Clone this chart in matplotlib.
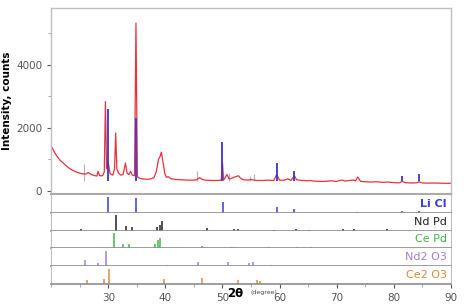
import numpy as np
import matplotlib
matplotlib.use("Agg")
import matplotlib.pyplot as plt
from matplotlib.ticker import MultipleLocator

two_theta = [20.0, 20.5, 21.0, 21.5, 22.0, 22.5, 23.0, 23.5, 24.0, 24.5, 25.0, 25.5,
             26.0, 26.5, 27.0, 27.5, 28.0, 28.2, 28.5, 29.0, 29.3, 29.5, 29.7, 30.0,
             30.3, 30.8, 31.1, 31.3, 31.5, 31.8, 32.2, 32.6, 33.0, 33.3, 33.6, 33.9,
             34.2, 34.6, 34.85, 35.1, 35.5, 36.0, 36.5, 37.0, 37.5, 38.0, 38.4, 38.8,
             39.1, 39.3, 39.6, 39.9, 40.2, 40.5, 41.0, 42.0, 43.0, 44.0, 45.0, 45.5,
             46.0, 46.5, 47.0, 48.0, 49.0, 49.8, 50.0, 50.2, 50.8, 51.2, 52.0, 52.8,
             53.3, 53.8, 54.5, 55.0, 56.0, 57.0, 58.0, 59.0, 59.5, 60.0, 60.8, 61.5,
             62.0, 62.6, 63.0, 64.0, 65.0, 65.4, 66.0, 67.0, 68.0, 69.0, 70.0, 70.9,
             71.5, 72.9, 73.3, 73.7, 74.2, 75.0, 76.0, 77.0, 78.0, 79.0, 80.0, 81.0,
             81.5, 82.0, 83.0, 84.0, 84.5, 85.0, 86.0, 87.0, 88.0, 89.0, 90.0]
counts = [1420, 1250, 1100, 980, 900, 820, 740, 680, 630, 590, 560, 540,
          530, 580, 520, 490, 470, 620, 480, 480, 600, 2830, 700, 900,
          550, 500, 700, 1830, 700, 560, 500, 520, 880, 560, 520, 620,
          500, 480, 5320, 450, 400, 380, 370, 370, 380, 420, 600, 1000,
          1100, 1230, 900, 550, 430, 450, 380, 360, 350, 340, 340, 350,
          420, 360, 340, 330, 330, 340, 900, 340, 520, 370, 430, 480,
          380, 350, 340, 360, 330, 330, 340, 330, 520, 340, 340, 380,
          330, 480, 350, 330, 320, 330, 310, 300, 300, 320, 300, 345,
          310, 345, 320, 440, 300, 290, 280, 290, 270, 280, 260, 255,
          300, 260, 250, 255, 290, 250, 245, 250, 245, 240, 240]

# LiCl sticks overlaid on the pattern (position, top counts)
licl_main_pos = [30.0, 34.9, 50.0, 59.5, 62.6, 81.5, 84.5]
licl_main_top = [2600, 2300, 1550, 880, 630, 480, 530]
faint_main_pos = [25.7, 45.6, 51.2, 54.8, 55.5]
faint_main_top = [850, 620, 560, 470, 520]

# reference phases: relative stick heights (0..1)
phases = ["Li Cl", "Nd Pd", "Ce Pd", "Nd2 O3", "Ce2 O3"]
phase_colors = ["#3b3bd6", "#222222", "#44b844", "#a27fd6", "#e08a3c"]
licl_pos = [30.0, 34.9, 50.1, 59.5, 62.6, 73.5, 81.5, 84.5]
licl_h = [0.9, 0.85, 0.6, 0.3, 0.2, 0.05, 0.08, 0.1]
ndpd_pos = [25.3, 31.4, 33.1, 34.1, 38.6, 39.0, 39.4, 47.3, 52.1, 52.8, 59.1,
            62.9, 65.2, 71.1, 73.1, 78.8]
ndpd_h = [0.06, 0.85, 0.28, 0.2, 0.22, 0.3, 0.53, 0.15, 0.1, 0.1, 0.05,
          0.08, 0.05, 0.06, 0.1, 0.08]
cepd_pos = [31.0, 32.6, 33.6, 38.1, 38.7, 39.0, 46.5, 51.5, 52.0, 58.1, 63.0, 65.5]
cepd_h = [0.88, 0.25, 0.22, 0.25, 0.45, 0.57, 0.15, 0.06, 0.06, 0.06, 0.05, 0.05]
nd2o3_pos = [25.9, 28.2, 29.6, 40.3, 45.7, 50.9, 54.6, 55.3, 58.5]
nd2o3_h = [0.35, 0.2, 0.85, 0.05, 0.25, 0.25, 0.2, 0.25, 0.06]
ce2o3_pos = [26.3, 29.2, 30.1, 39.8, 46.5, 52.7, 56.1, 56.6, 70.2, 75.3]
ce2o3_h = [0.2, 0.3, 0.85, 0.3, 0.35, 0.25, 0.25, 0.15, 0.05, 0.05]
phase_pos = [licl_pos, ndpd_pos, cepd_pos, nd2o3_pos, ce2o3_pos]
phase_h = [licl_h, ndpd_h, cepd_h, nd2o3_h, ce2o3_h]

fig = plt.figure(figsize=(4.74, 3.07), dpi=100)
L, W = 0.108, 0.843
ax = fig.add_axes([L, 0.368, W, 0.606])
ax.plot(two_theta, counts, color="#e8323c", lw=0.9, zorder=2)
base = 320
ax.vlines(faint_main_pos, base, faint_main_top, color="#b8b0c8", lw=0.8, zorder=1)
ax.vlines(licl_main_pos, base, licl_main_top, color="#3535d8", lw=1.3, zorder=3)
ax.set_xlim(20, 90)
ax.set_ylim(-100, 5800)
ax.set_yticks([0, 2000, 4000])
ax.yaxis.set_minor_locator(MultipleLocator(1000))
ax.set_xticks([])
ax.tick_params(axis="y", labelsize=7.5, colors="#555555", length=3, width=0.8)
ax.tick_params(axis="y", which="minor", length=2, colors="#999999")
for s in ax.spines.values():
    s.set_color("#c0c0c0")
    s.set_linewidth(1.0)
ax.spines["bottom"].set_color("#aaaaaa")
ax.spines["bottom"].set_linewidth(1.5)
ax.set_ylabel("Intensity, counts", fontsize=7.5, fontweight="bold", labelpad=3)

top, bot = 0.365, 0.075
ph = (top - bot) / len(phases)
for i, name in enumerate(phases):
    a = fig.add_axes([L, top - (i + 1) * ph, W, ph])
    a.vlines(phase_pos[i], 0, phase_h[i], color=phase_colors[i], lw=1.1)
    a.set_xlim(20, 90)
    a.set_ylim(0, 1)
    a.set_yticks([])
    a.text(0.99, 0.5, name, transform=a.transAxes, ha="right", va="center",
           fontsize=8, color=phase_colors[i],
           fontweight="bold" if i == 0 else "normal")
    a.spines["top"].set_visible(False)
    for s in ["left", "right"]:
        a.spines[s].set_color("#c0c0c0")
    a.spines["bottom"].set_color("#8c8c8c")
    a.spines["bottom"].set_linewidth(1.2)
    if i < len(phases) - 1:
        a.set_xticks([])
    else:
        a.set_xticks(range(30, 91, 10))
        a.xaxis.set_minor_locator(MultipleLocator(5))
        a.tick_params(axis="x", labelsize=7.5, colors="#555555", length=3)
        a.tick_params(axis="x", which="minor", length=2, colors="#999999")

fig.text(0.497, 0.045, "2θ", fontsize=8.5, fontweight="bold", ha="center", va="center")
fig.text(0.528, 0.047, "(degree)", fontsize=4.5, color="#444444", ha="left", va="center")

fig.savefig("out.png", dpi=100)
